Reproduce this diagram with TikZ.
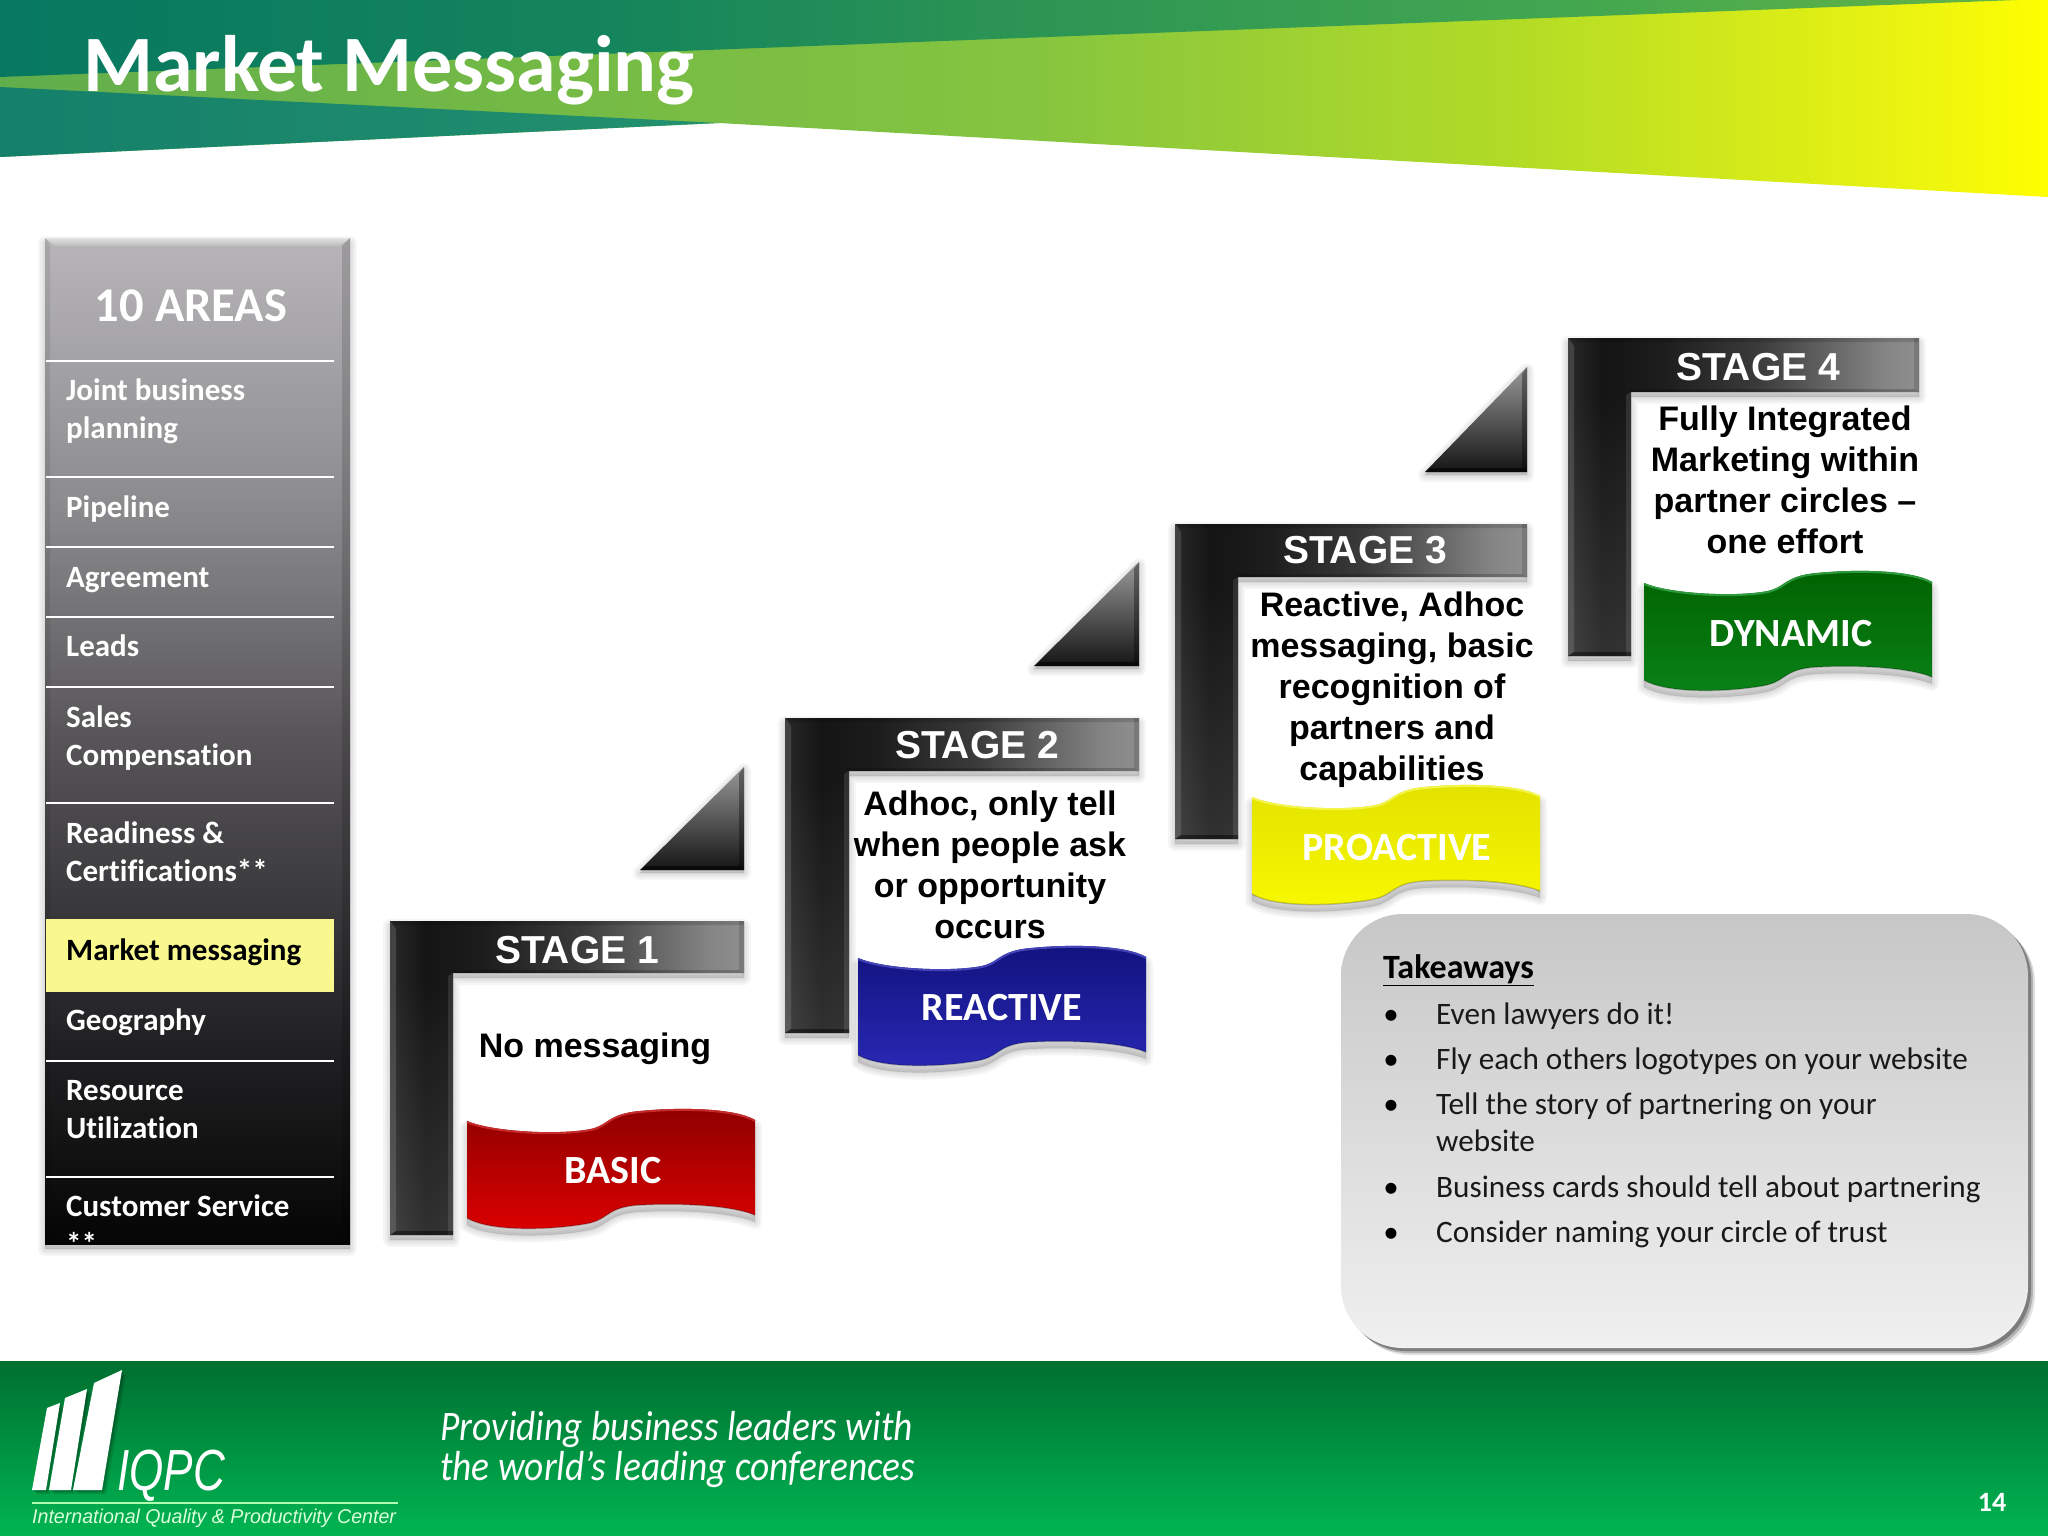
\documentclass[tikz,border=0pt]{standalone}
\usepackage{fontspec}
\usetikzlibrary{fadings,shadings}
\newfontfamily\carl[Ligatures=CommonOff]{Carlito}
\newfontfamily\arl{Liberation Sans}
\newcommand{\fsz}[1]{\fontsize{#1}{#1}\selectfont}
\definecolor{panelyellow}{HTML}{F8F88E}
% TikZ maps the path's box to 25bp..75bp of a shading
\pgfdeclarehorizontalshading{hdrlight}{100bp}{rgb(0bp)=(.38,.68,.30);rgb(25bp)=(.38,.68,.30);rgb(50bp)=(.52,.77,.25);rgb(62bp)=(.70,.86,.15);rgb(72bp)=(.93,.96,.06);rgb(75bp)=(1,1,0);rgb(100bp)=(1,1,0)}
\pgfdeclarehorizontalshading{hdrdark}{100bp}{rgb(0bp)=(.03,.47,.38);rgb(25bp)=(.03,.47,.38);rgb(40bp)=(.08,.52,.36);rgb(50bp)=(.17,.58,.33);rgb(65bp)=(.27,.66,.31);rgb(75bp)=(.40,.70,.27);rgb(100bp)=(.40,.70,.27)}
\pgfdeclareverticalshading{panelgrad}{100bp}{rgb(0bp)=(.02,.02,.02);rgb(25bp)=(.02,.02,.02);rgb(35bp)=(.13,.13,.14);rgb(50bp)=(.34,.33,.34);rgb(62bp)=(.55,.55,.56);rgb(75bp)=(.72,.71,.72);rgb(100bp)=(.72,.71,.72)}
\pgfdeclarehorizontalshading{stagegrad}{100bp}{rgb(0bp)=(.16,.16,.16);rgb(25bp)=(.16,.16,.16);rgb(30bp)=(.08,.08,.08);rgb(38bp)=(.11,.11,.11);rgb(52bp)=(.23,.23,.23);rgb(70bp)=(.52,.52,.52);rgb(75bp)=(.56,.56,.56);rgb(100bp)=(.56,.56,.56)}
\tikzset{
  x=1pt,y=-1pt,
  whitetext/.style={text=white,inner sep=0pt,anchor=base},
  arealabel/.style={text=white,inner sep=0pt,anchor=base west,font=\carl\bfseries\fsz{31}},
  arealine/.style={draw=white,line width=2.5pt},
  stagelabel/.style={whitetext,font=\arl\bfseries\fsz{39}},
  bodytext/.style={text=black,inner sep=0pt,anchor=north,align=center,font=\arl\bfseries\fontsize{34}{41}\selectfont},
  bannerlabel/.style={whitetext,font=\carl\bfseries\fsz{40}},
  listtext/.style={text=black!90,inner sep=0pt,anchor=base west,font=\carl\fsz{31.2}},
  bulletmark/.style={text=black,inner sep=0pt,anchor=base,font=\carl\fsz{31}},
}
\newcommand{\softshadow}[2][5]{%
  \foreach \w in {14,10,6,2}{\draw[black,opacity=.035,line width=\w pt,line join=round,fill=black,fill opacity=.035,shift={(0,#1)}] #2;}}
% stage: x0 y0 legright barbottom x1 y1
\newcommand{\stageL}[6]{%
  \softshadow{(#1,#2) -- (#5,#2) -- (#5,#4) -- (#3,#4) -- (#3,#6) -- (#1,#6) -- cycle}
  \shade[shading=stagegrad] (#1,#2) -- (#5,#2) -- (#5,#4) -- (#3,#4) -- (#3,#6) -- (#1,#6) -- cycle;
  \fill[white,opacity=.12,path fading=north] (#1,#4) rectangle (#3,#6);
  \fill[white,opacity=.13] (#1,#2) -- (#1+6,#2+8) -- (#1+6,#6-4) -- (#1,#6) -- cycle;
  \fill[white,opacity=.10] (#3-5,#4+3) -- (#3,#4) -- (#3,#6) -- (#3-5,#6) -- cycle;
  \fill[black,opacity=.14] (#5-5,#2) -- (#5,#2) -- (#5,#4) -- (#5-5,#4-3) -- cycle;
  \fill[black,opacity=.45] (#1,#6) -- (#3,#6) -- (#3,#6-4) -- (#1+6,#6-4) -- cycle;
  \fill[black,opacity=.14] (#1+6,#2+4) -- (#5,#2+4) -- (#5,#2) -- (#1,#2) -- cycle;
  \fill[black,opacity=.2] (#3,#4) -- (#5,#4) -- (#5-5,#4-3) -- (#3-3,#4-3) -- cycle;
}
% triangle: x0 (left) x1 (right) y0 (top) y1 (bottom)
\newcommand{\stepTri}[4]{%
  \softshadow[3]{(#1,#4) -- (#2,#3) -- (#2,#4) -- cycle}
  \shade[shading=axis,shading angle=-45,top color=black!40,bottom color=black!92] (#1,#4) -- (#2,#3) -- (#2,#4) -- cycle;
  \fill[black,opacity=.55] (#1,#4) -- (#2,#4) -- (#2-2,#4-4) -- (#1+6,#4-4) -- cycle;
  \fill[black,opacity=.35] (#2,#3) -- (#2,#4) -- (#2-5,#4-4) -- (#2-5,#3+7) -- cycle;
}
\newcommand{\bannerpath}{(467,1121) .. controls (490,1131) and (550,1135) .. (585,1130) .. controls (610,1127) and (605,1114) .. (640,1111) .. controls (680,1107) and (735,1108) .. (755,1120) -- (755,1215) .. controls (730,1205) and (680,1203) .. (640,1205) .. controls (605,1207) and (610,1220) .. (585,1224) .. controls (550,1230) and (490,1232) .. (467,1218) -- cycle}
% banner: dx dy topcolor bottomcolor edge
\newcommand{\banner}[5]{%
  \begin{scope}[shift={(#1,#2)}]
  \softshadow[7]{\bannerpath}
  \shade[top color=#3,bottom color=#4] \bannerpath;
  \draw[#5,line width=2pt,line join=round] (467,1122) .. controls (490,1132) and (550,1136) .. (585,1131) .. controls (610,1128) and (605,1115) .. (640,1112) .. controls (680,1108) and (735,1109) .. (755,1121);
  \draw[black,opacity=.2,line width=1.5pt] (755,1215) .. controls (730,1205) and (680,1203) .. (640,1205) .. controls (605,1207) and (610,1220) .. (585,1224) .. controls (550,1230) and (490,1232) .. (467,1218);
  \end{scope}}
\begin{document}
\begin{tikzpicture}
\useasboundingbox (0,0) rectangle (2048,1536);
\fill[white] (0,0) rectangle (2048,1536);

% header
\definecolor{tealleft}{HTML}{15806A}\definecolor{tealright}{HTML}{23906E}
\shade[shading=hdrlight] (0,0) -- (2048,0) -- (2048,197) -- (719,123) -- (0,157) -- cycle;
\shade[shading=hdrdark] (0,0) -- (2017,0) -- (0,77) -- cycle;
\shade[left color=tealleft,right color=tealright] (0,87) -- (719,123) -- (0,157) -- cycle;
\node[whitetext,anchor=base west,font=\carl\bfseries\fsz{80}] (title) at (83,92) {Market Messaging};

% left panel
\softshadow[5]{(45,238) rectangle (350,1244)}
\shade[shading=panelgrad] (45,238) rectangle (350,1244);
\shade[top color=white!85!gray,bottom color=gray!50!white,opacity=.8] (45,238) -- (350,238) -- (340,246) -- (55,246) -- cycle;
\fill[black,opacity=.14] (350,238) -- (350,1244) -- (342,1238) -- (342,246) -- cycle;
\fill[black,opacity=.08] (45,238) -- (45,1244) -- (50,1238) -- (50,246) -- cycle;
\fill[panelyellow] (46,919) rectangle (334,992);
\foreach \yy in {361,477,547,617,687,803,1061,1177}{\draw[arealine] (46,\yy) -- (334,\yy);}
\node[whitetext,font=\carl\bfseries\fsz{48.5}] (areas) at (191,321) {10 AREAS};
\node[arealabel] (a1) at (66,400) {Joint business};
\node[arealabel] (a1b) at (66,438) {planning};
\node[arealabel] (a2) at (66,517) {Pipeline};
\node[arealabel] (a3) at (66,587) {Agreement};
\node[arealabel] (a4) at (66,656) {Leads};
\node[arealabel] (a5) at (66,727) {Sales};
\node[arealabel] (a5b) at (66,765) {Compensation};
\node[arealabel] (a6) at (66,843) {Readiness \&};
\node[arealabel] (a6b) at (66,881) {Certifications**};
\node[arealabel,text=black] (a7) at (66,960) {Market messaging};
\node[arealabel] (a8) at (66,1030) {Geography};
\node[arealabel] (a9) at (66,1100) {Resource};
\node[arealabel] (a9b) at (66,1138) {Utilization};
\node[arealabel] (a10) at (66,1216) {Customer Service};
\begin{scope}
\clip (45,1200) rectangle (350,1243);
\node[arealabel] (a10b) at (66,1254) {**};
\end{scope}

% stages
\stepTri{640}{744}{767}{870}
\stepTri{1034}{1139}{562}{666}
\stepTri{1425}{1527}{367}{472}
\stageL{390}{921}{453}{973}{744}{1235}
\stageL{785}{718}{849}{771}{1139}{1033}
\stageL{1175}{524}{1238}{577}{1527}{839}
\stageL{1568}{338}{1631}{392}{1919}{656}
\node[stagelabel] (s1) at (577,963) {STAGE 1};
\node[stagelabel] (s2) at (977,758) {STAGE 2};
\node[stagelabel] (s3) at (1365,563) {STAGE 3};
\node[stagelabel] (s4) at (1758,380) {STAGE 4};

% banners
\definecolor{redtop}{HTML}{8E0000}\definecolor{redbot}{HTML}{DC0000}\definecolor{rededge}{HTML}{C62A2A}
\definecolor{bluetop}{HTML}{12127E}\definecolor{bluebot}{HTML}{2828B4}\definecolor{blueedge}{HTML}{4444B8}
\definecolor{yeltop}{HTML}{E2E200}\definecolor{yelbot}{HTML}{F8F800}\definecolor{yeledge}{HTML}{F4F44A}
\definecolor{grntop}{HTML}{006200}\definecolor{grnbot}{HTML}{0A8218}\definecolor{grnedge}{HTML}{2C9A3C}
\banner{0}{0}{redtop}{redbot}{rededge}
\banner{391}{-163}{bluetop}{bluebot}{blueedge}
\banner{785}{-324}{yeltop}{yelbot}{yeledge}
\banner{1177}{-538}{grntop}{grnbot}{grnedge}

% body texts
\node[bodytext] (b1) at (595,1033) {No messaging};
\node[bodytext] (b2) at (990,791) {Adhoc, only tell\\when people ask\\or opportunity\\occurs};
\node[bodytext] (b3) at (1392,592) {Reactive, Adhoc\\messaging, basic\\recognition of\\partners and\\capabilities};
\node[bodytext] (b4) at (1785,406) {Fully Integrated\\Marketing within\\partner circles –\\one effort};

\node[bannerlabel] (l1) at (613,1183) {BASIC};
\node[bannerlabel] (l2) at (1002,1020) {REACTIVE};
\node[bannerlabel] (l3) at (1397,860) {PROACTIVE};
\node[bannerlabel] (l4) at (1791,646) {DYNAMIC};

% takeaways
\foreach \o/\op in {7/.12,5/.2,3/.3}{\fill[black,opacity=\op,rounded corners=62pt,shift={(\o,\o)}] (1341,914) rectangle (2028,1348);}
\shade[top color=black!22,bottom color=black!6,rounded corners=62pt] (1341,914) rectangle (2028,1348);
\node[text=black,inner sep=0pt,anchor=base west,font=\carl\bfseries\fsz{34}] (tk) at (1383,978) {\underline{Takeaways}};
\node[bulletmark] (k1) at (1391,1024) {•};
\node[listtext] (t1) at (1436,1024) {Even lawyers do it!};
\node[bulletmark] (k2) at (1391,1069) {•};
\node[listtext] (t2) at (1436,1069) {Fly each others logotypes on your website};
\node[bulletmark] (k3) at (1391,1114) {•};
\node[listtext] (t3) at (1436,1114) {Tell the story of partnering on your};
\node[listtext] (t3b) at (1436,1151) {website};
\node[bulletmark] (k4) at (1391,1197) {•};
\node[listtext] (t4) at (1436,1197) {Business cards should tell about partnering};
\node[bulletmark] (k5) at (1391,1242) {•};
\node[listtext] (t5) at (1436,1242) {Consider naming your circle of trust};

% footer
\definecolor{foottop}{HTML}{006F30}\definecolor{footbot}{HTML}{00B552}
\shade[top color=foottop,bottom color=footbot] (0,1361) rectangle (2048,1536);
\draw[white,line width=1pt,opacity=.5] (0,1360.5) -- (2048,1360.5);
\foreach \sx/\op in {4/.12,2/.18}{
\fill[black,opacity=\op,shift={(\sx,\sx)}] (32,1490) -- (47,1408) -- (60,1403) -- (46,1490) -- cycle (49,1490) -- (65,1398) -- (87,1389) -- (71,1490) -- cycle (73,1490) -- (94,1383) -- (122,1370) -- (102,1490) -- cycle;}
\fill[white] (32,1490) -- (47,1408) -- (60,1403) -- (46,1490) -- cycle;
\fill[white] (49,1490) -- (65,1398) -- (87,1389) -- (71,1490) -- cycle;
\fill[white] (73,1490) -- (94,1383) -- (122,1370) -- (102,1490) -- cycle;
\node[text=white,inner sep=0pt,anchor=base west,font=\arl\itshape\fsz{58},xscale=.76] (iqpc) at (117,1490) {IQPC};
\draw[white!70!green,line width=2pt] (32,1503) -- (398,1503);
\node[text=white!85!green,inner sep=0pt,anchor=base west,font=\arl\itshape\fsz{20},xscale=.98] (intl) at (32,1523) {International Quality \& Productivity Center};
\node[text=white,inner sep=0pt,anchor=base west,font=\carl\itshape\fsz{42},xscale=.89] (tag1) at (440,1440) {Providing business leaders with};
\node[text=white,inner sep=0pt,anchor=base west,font=\carl\itshape\fsz{42},xscale=.89] (tag2) at (440,1480) {the world’s leading conferences};
\node[whitetext,font=\carl\bfseries\fsz{28}] (pg) at (1992,1511) {14};
\end{tikzpicture}
\end{document}
